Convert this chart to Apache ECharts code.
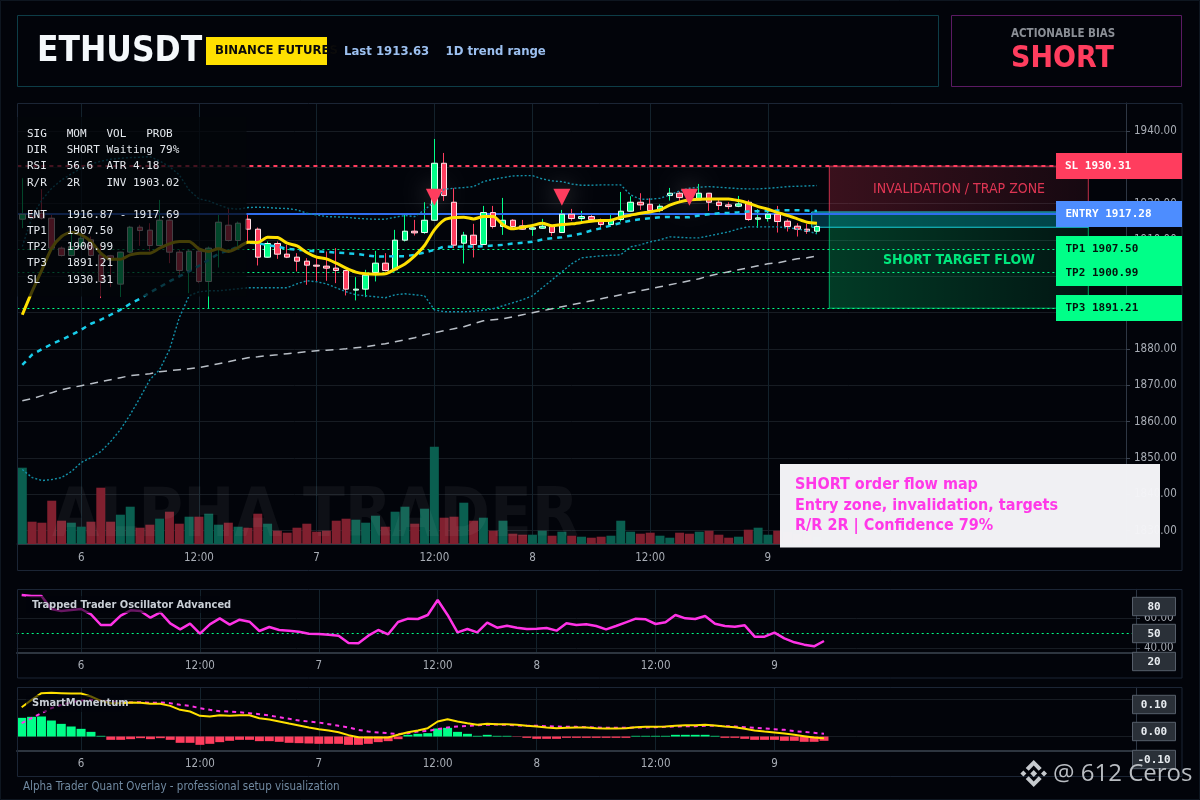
<!DOCTYPE html>
<html><head><meta charset="utf-8">
<style>html,body{margin:0;padding:0;background:#02040a}#c{width:1200px;height:800px}</style>
<script src="https://cdn.jsdelivr.net/npm/echarts@6/dist/echarts.min.js"></script>
</head><body><div id="c"></div>
<script>
const symbol='ETHUSDT', exchange='BINANCE FUTURES', lastPrice='1913.63', bias='SHORT';
const tickIndex=[6,18,30,42,52,64,76];
const tickText=['6','12:00','7','12:00','8','12:00','9'];
const categoryCount=113;
const opens=[1915.71,1916.90,1917.36,1915.98,1907.74,1905.72,1908.19,1910.03,1905.90,1905.63,
1897.84,1906.64,1913.51,1912.69,1908.47,1915.43,1906.64,1901.60,1906.91,1898.57,
1907.74,1914.06,1909.84,1915.71,1912.96,1905.26,1909.02,1906.09,1905.26,1904.16,
1903.06,1902.79,1902.24,1901.60,1896.19,1896.46,1901.05,1903.61,1901.78,1909.94,
1912.41,1912.04,1915.43,1931.11,1920.38,1909.11,1911.31,1908.74,1917.54,1913.69,
1915.43,1913.88,1912.96,1913.23,1913.69,1912.04,1917.08,1915.89,1916.44,1915.62,
1914.24,1915.62,1917.91,1920.38,1919.83,1918.09,1922.22,1922.86,1922.67,1921.02,
1922.86,1920.38,1919.65,1919.28,1920.38,1915.71,1915.89,1917.08,1915.16,1913.78,
1912.96,1912.41];
const closes=[1917.08,1915.98,1915.98,1907.74,1905.72,1908.19,1910.48,1905.72,1898.57,1904.53,
1906.64,1913.51,1912.59,1908.47,1915.43,1906.64,1901.60,1906.91,1898.57,1907.74,
1914.88,1909.84,1914.61,1912.96,1905.26,1909.02,1906.09,1905.26,1904.16,1903.06,
1902.79,1902.24,1901.60,1896.46,1896.46,1900.31,1903.61,1901.60,1909.94,1912.41,
1911.95,1915.43,1931.11,1922.22,1908.56,1911.31,1908.74,1917.54,1913.69,1915.43,
1913.69,1912.96,1913.33,1913.78,1912.04,1917.08,1915.89,1916.44,1915.62,1914.24,
1915.62,1917.91,1920.38,1919.65,1918.09,1919.28,1922.86,1921.67,1921.02,1922.86,
1920.38,1919.47,1919.19,1919.92,1915.62,1916.08,1917.08,1915.07,1913.69,1912.96,
1912.41,1913.69];
const lows=[1913.23,1915.50,1915.60,1907.28,1905.44,1905.44,1907.90,1905.44,1893.99,1897.01,
1894.45,1906.36,1908.38,1906.82,1908.40,1903.61,1899.95,1895.36,1898.11,1891.24,
1902.42,1909.57,1908.19,1909.11,1902.97,1905.26,1904.80,1904.99,1901.32,1897.65,
1898.57,1898.75,1898.11,1894.72,1893.35,1894.26,1898.57,1901.32,1901.32,1909.57,
1911.22,1911.68,1915.34,1920.75,1907.74,1903.52,1905.17,1908.74,1913.14,1911.40,
1913.23,1912.78,1911.13,1913.14,1911.13,1912.04,1915.25,1915.07,1915.52,1913.51,
1914.15,1915.07,1917.82,1918.27,1917.63,1917.63,1920.84,1920.57,1920.57,1921.02,
1918.00,1918.27,1918.46,1919.01,1915.25,1913.33,1915.07,1912.04,1912.32,1910.94,
1911.68,1911.68];
const highs=[1926.98,1918.27,1923.96,1917.36,1908.19,1912.32,1911.86,1910.94,1908.65,1905.90,
1906.64,1913.88,1914.15,1914.61,1921.02,1915.98,1907.28,1907.46,1908.19,1908.19,
1917.36,1918.73,1915.07,1917.36,1913.42,1909.57,1909.57,1908.65,1906.36,1904.99,
1905.44,1906.82,1907.74,1901.78,1899.76,1901.78,1907.00,1906.36,1912.78,1917.36,
1915.53,1920.38,1937.80,1933.95,1924.23,1912.23,1914.43,1919.37,1919.37,1921.57,
1915.71,1915.52,1913.51,1915.80,1914.15,1918.27,1918.55,1918.00,1916.90,1915.89,
1916.90,1923.22,1922.03,1922.86,1921.48,1919.83,1924.32,1923.32,1923.04,1925.42,
1922.86,1921.02,1920.38,1922.12,1921.02,1918.46,1918.27,1919.37,1915.71,1914.61,
1914.43,1914.15];
const volumes=[76.3,22.3,21.3,43.3,23.3,21.3,17.3,22.3,56.3,22.3,
29.3,37.3,16.3,19.3,25.3,32.3,20.3,27.3,27.3,30.3,
19.3,21.3,17.3,16.3,30.3,20.3,13.3,11.3,16.3,20.3,
12.3,13.3,23.3,25.3,24.3,21.3,28.3,17.3,32.3,37.3,
20.3,35.3,97.3,26.3,27.3,41.3,23.3,26.3,13.3,23.3,
10.3,9.3,9.3,13.3,8.3,12.3,8.3,7.3,6.3,7.3,
8.3,23.3,12.3,10.3,11.3,8.3,6.3,11.3,10.3,12.3,
13.3,9.3,6.3,7.3,14.3,16.3,9.3,13.3,12,10,
9,7];
const emaFast=[1889.41,1895.82,1901.78,1907.74,1910.94,1912.14,1911.40,1909.57,1906.36,1904.71,
1904.71,1905.90,1906.36,1906.36,1907.74,1908.93,1909.57,1909.57,1907.55,1906.82,
1907.55,1906.82,1907.92,1909.39,1909.29,1910.76,1910.67,1909.11,1908.38,1906.54,
1905.26,1904.80,1903.61,1902.24,1901.14,1900.68,1900.59,1900.68,1901.96,1903.40,
1905.63,1908.47,1912.78,1915.52,1916.17,1916.26,1915.80,1916.44,1916.44,1914.15,
1913.05,1913.51,1913.97,1914.61,1913.88,1914.24,1914.43,1914.79,1915.16,1915.34,
1915.43,1916.26,1916.81,1917.36,1917.72,1918.27,1919.56,1920.47,1921.02,1921.21,
1921.30,1921.30,1921.30,1920.84,1920.11,1919.19,1918.46,1917.54,1916.72,1915.80,
1914.88,1914.61];
const emaMid=[1875.58,1878.41,1879.96,1881.34,1882.53,1883.82,1885.28,1886.93,1888.03,1889.41,
1890.78,1892.43,1893.81,1895.55,1897.01,1898.57,1899.95,1901.32,1902.88,1904.53,
1906.18,1907.09,1908.19,1909.29,1909.11,1908.56,1908.19,1907.55,1907.28,1907.09,
1906.82,1906.73,1906.54,1906.36,1906.18,1905.81,1905.44,1905.44,1905.54,1905.53,
1905.90,1906.54,1907.28,1908.19,1908.10,1908.19,1908.19,1908.28,1908.47,1908.65,
1909.02,1909.20,1909.48,1910.12,1910.49,1910.76,1911.22,1911.77,1912.59,1913.23,
1913.97,1914.70,1915.34,1915.71,1915.98,1916.26,1916.35,1916.17,1916.26,1916.72,
1917.08,1917.36,1917.45,1917.63,1917.82,1917.91,1918.00,1918.09,1918.18,1918.18,
1918.09,1918.00];
const emaSlow=[1865.76,1866.30,1867.14,1867.96,1868.79,1869.34,1869.89,1870.44,1870.99,1871.54,
1872.09,1872.64,1872.91,1873.19,1873.74,1874.01,1874.29,1874.56,1874.84,1875.39,
1875.94,1876.49,1877.04,1877.59,1877.86,1878.14,1878.41,1878.69,1878.96,1879.24,
1879.51,1879.65,1879.79,1880.06,1880.34,1880.61,1881.03,1881.44,1881.99,1882.54,
1883.09,1883.91,1884.46,1885.01,1885.56,1886.11,1886.94,1887.76,1888.04,1888.31,
1888.86,1889.41,1889.96,1890.51,1891.06,1891.61,1892.16,1892.71,1893.26,1893.81,
1894.36,1894.91,1895.46,1896.01,1896.56,1897.11,1897.66,1898.21,1898.76,1899.31,
1900.13,1900.68,1901.23,1901.78,1902.33,1902.88,1903.43,1903.71,1904.26,1904.81,
1905.08,1905.63];
const bandUpper=[1908.19,1916.44,1921.02,1924.23,1926.52,1928.17,1929.73,1930.92,1931.66,1932.21,
1932.48,1932.66,1932.76,1932.94,1931.75,1930.19,1927.90,1923.77,1921.30,1920.75,
1919.65,1918.73,1918.46,1918.92,1919.01,1918.92,1918.73,1918.64,1918.28,1917.36,
1916.90,1916.44,1916.35,1916.26,1915.98,1915.80,1915.71,1915.71,1916.26,1916.72,
1916.44,1918.27,1920.57,1923.96,1924.23,1924.42,1924.69,1926.06,1926.71,1927.16,
1927.62,1927.71,1927.71,1926.80,1926.25,1926.06,1925.42,1925.06,1925.06,1925.15,
1925.15,1925.15,1922.40,1921.21,1921.21,1921.48,1922.40,1923.50,1924.23,1924.51,
1924.69,1924.51,1924.32,1924.14,1924.05,1924.05,1924.23,1924.42,1924.69,1924.78,
1924.87,1924.97];
const bandLower=[1846.79,1844.59,1843.77,1844.04,1844.59,1846.24,1848.72,1850.09,1851.74,1854.49,
1857.79,1861.92,1866.59,1871.54,1874.29,1879.79,1888.59,1894.63,1895.73,1896.00,
1896.00,1896.28,1896.56,1896.83,1896.83,1896.83,1896.83,1896.83,1897.93,1898.76,
1898.49,1897.93,1896.83,1895.73,1894.91,1894.63,1894.36,1894.08,1894.91,1895.18,
1894.91,1894.63,1890.78,1890.23,1890.23,1890.23,1890.37,1890.65,1891.06,1891.89,
1892.71,1893.54,1894.63,1896.83,1899.03,1901.23,1903.43,1905.08,1905.36,1905.63,
1905.77,1905.91,1908.11,1908.66,1909.48,1910.03,1910.86,1910.72,1910.58,1910.58,
1911.13,1911.68,1912.23,1913.06,1913.61,1913.61,1913.61,1913.61,1913.33,1913.06,
1912.51,1911.68];
const oscillator=[75.53,74.87,74.87,66.2,64.87,65.53,66.2,62.65,55.54,55.54,
61.76,65.31,64.87,60.42,63.98,56.65,52.65,56.42,49.76,55.98,
59.98,55.76,59.09,57.76,51.54,54.2,52.2,51.76,51.09,49.76,
49.54,49.09,48.43,43.54,43.31,48.43,52.2,49.31,57.53,59.76,
59.54,62.2,72.2,62.2,50.65,52.87,50.65,57.09,53.76,55.09,
53.76,52.87,53.09,53.54,51.76,56.65,55.54,55.98,54.87,52.65,
54.87,57.31,59.76,59.31,56.2,57.31,62.2,59.98,59.54,61.54,
56.42,54.87,54.42,55.31,47.76,47.76,50.42,46.65,43.98,42.43,
41.31,44.87];
const momentumHist=[.0502,.0529,.0538,.0430,.0340,.0269,.0206,.0125,.0018,-.0090,
-.0090,-.0072,-.0045,-.0072,-.0045,-.0090,-.0170,-.0170,-.0224,-.0197,
-.0152,-.0116,-.0090,-.0090,-.0125,-.0125,-.0143,-.0170,-.0179,-.0188,
-.0197,-.0197,-.0197,-.0224,-.0224,-.0197,-.0152,-.0125,-.0072,.0045,
.0072,.0090,.0215,.0233,.0125,.0072,.0018,.0045,.0018,.0018,
-.0009,-.0036,-.0063,-.0063,-.0063,-.0036,-.0036,-.0036,-.0036,-.0036,
-.0036,-.0036,.0018,.0018,.0018,.0018,.0045,.0045,.0045,.0045,
.0018,-.0036,-.0036,-.0063,-.0090,-.0090,-.0090,-.0116,-.0116,-.0143,
-.0143,-.0116];
const momentumFast=[.0788,.0986,.1165,.1174,.1165,.1156,.1156,.1075,.0959,.0896,
.0896,.0914,.0905,.0878,.0878,.0824,.0717,.0672,.0556,.0538,
.0573,.0556,.0573,.0573,.0493,.0457,.0403,.0349,.0296,.0242,
.0197,.0161,.0116,.0036,-.0018,-.0027,-.0027,-.0027,.0045,.0116,
.0161,.0224,.0403,.0466,.0403,.0358,.0314,.0340,.0332,.0332,
.0314,.0287,.0269,.0242,.0224,.0233,.0242,.0242,.0224,.0215,
.0215,.0224,.0251,.0260,.0260,.0269,.0287,.0305,.0305,.0314,
.0296,.0269,.0251,.0206,.0161,.0134,.0108,.0081,.0045,.0009,
-.0027,-.0045];
const momentumSignal=[.0358,.0493,.0627,.0762,.0851,.0914,.0968,.0986,.0968,.0941,
.0932,.0914,.0923,.0905,.0914,.0896,.0851,.0824,.0762,.0717,
.0681,.0672,.0654,.0627,.0600,.0564,.0520,.0475,.0430,.0403,
.0376,.0332,.0287,.0242,.0179,.0134,.0108,.0090,.0063,.0090,
.0134,.0152,.0197,.0242,.0269,.0287,.0305,.0314,.0323,.0314,
.0296,.0287,.0287,.0278,.0269,.0260,.0260,.0251,.0242,.0233,
.0233,.0233,.0242,.0242,.0251,.0260,.0269,.0278,.0278,.0287,
.0287,.0278,.0269,.0251,.0233,.0215,.0197,.0179,.0143,.0125,
.0099,.0072];
const signalIndex=[42,55,68];
const signalPrice=[1921.76,1921.76,1921.76];
const priceTicks=[1830,1840,1850,1860,1870,1880,1890,1900,1910,1920,1930,1940];
const oscTicks=[40,60];
const momTicks=[0,0.1];
const slPrice=1930.31, entryPrice=1917.28, tp1Price=1907.50, tp2Price=1900.99, tp3Price=1891.21;
const entryZoneBottom=1913.50, entryZoneTop=1917.69;
const infoLines=['SIG   MOM   VOL   PROB','DIR   SHORT Waiting 79%','RSI   56.6  ATR 4.18','R/R   2R    INV 1903.02','',
 'ENT   1916.87 - 1917.69','TP1   1907.50','TP2   1900.99','TP3   1891.21','SL    1930.31'];
const noteLines=['SHORT order flow map','Entry zone, invalidation, targets','R/R 2R | Confidence 79%'];
const oscBoxes=['80','50','20'], momBoxes=['0.10','0.00','-0.10'];

const UP='#00ff88', DOWN='#ff3d5e';
const categories=Array.from({length:categoryCount},(_,i)=>{const k=tickIndex.indexOf(i);return k>=0?tickText[k]:'';});
const showTick=i=>tickIndex.indexOf(i)>=0;
const candle=opens.map((o,i)=>[o,closes[i],lows[i],highs[i]]);
const body=opens.map((o,i)=>[o,closes[i],Math.min(o,closes[i]),Math.max(o,closes[i])]);
const volData=volumes.map((v,i)=>({value:v,itemStyle:{color:closes[i]>=opens[i]?'#0a5f50':'#80202f'}}));
const histData=momentumHist.map(v=>({value:v,itemStyle:{color:v>=0?UP:DOWN}}));
const signals=signalIndex.map((x,i)=>[x,signalPrice[i]]);

const mono='"DejaVu Sans Mono",monospace', sans='"DejaVu Sans Condensed","DejaVu Sans",sans-serif';
const xAxisBase=(gi)=>({type:'category',gridIndex:gi,data:categories,boundaryGap:true,
 axisLine:{onZero:false,lineStyle:{color:'#3c4552',width:1.5}},
 axisTick:{alignWithLabel:true,interval:i=>showTick(i),length:4,lineStyle:{color:'#3c4552'}},
 axisLabel:{interval:i=>showTick(i),color:'#a8adb5',fontSize:11.5,fontFamily:sans,margin:8,hideOverlap:false},
 splitLine:{show:true,alignWithLabel:true,interval:i=>showTick(i),lineStyle:{color:'#13222c',width:1}}});
const yGrid={show:true,lineStyle:{color:'#171c23',width:1}};
const priceLevel=(v,color,width,type)=>({type:'line',xAxisIndex:0,yAxisIndex:0,data:[],silent:true,z:6,
 markLine:{silent:true,symbol:'none',animation:false,label:{show:false},lineStyle:{color,width,type},data:[{yAxis:v}]}});
const ln=(x,y,data,color,width,type,z,smooth)=>({type:'line',xAxisIndex:x,yAxisIndex:y,data,showSymbol:false,symbol:'none',
 lineStyle:{color,width,type},z:z||7,smooth:smooth||false,silent:true});

const option={
 backgroundColor:'#02040a',animation:false,
 grid:[{left:17.4,width:1108.6,top:103,height:441},{left:16.7,width:1119.3,top:589.3,height:63},{left:16.7,width:1119.3,top:687.3,height:63}],
 xAxis:[xAxisBase(0),xAxisBase(1),xAxisBase(2)],
 yAxis:[
  {type:'value',gridIndex:0,position:'right',min:1826.3,max:1947.7,
   axisLine:{show:true,lineStyle:{color:'#2e3744'}},axisTick:{show:true,length:4,lineStyle:{color:'#3c4552'},customValues:priceTicks},
   axisLabel:{color:'#a8adb5',fontSize:11.5,fontFamily:sans,margin:8,customValues:priceTicks,formatter:v=>v.toFixed(2)},splitLine:yGrid},
  {type:'value',gridIndex:0,position:'right',min:0,max:441,show:false,splitLine:{show:false}},
  {type:'value',gridIndex:1,position:'right',min:37.33,max:79.33,
   axisLine:{show:true,lineStyle:{color:'#2e3744'}},axisTick:{show:true,length:4,lineStyle:{color:'#3c4552'},customValues:oscTicks},
   axisLabel:{color:'#a8adb5',fontSize:11.5,fontFamily:sans,margin:8,customValues:oscTicks,formatter:v=>v.toFixed(2)},splitLine:yGrid},
  {type:'value',gridIndex:2,position:'right',min:-0.0371,max:0.1323,
   axisLine:{show:true,lineStyle:{color:'#2e3744'}},axisTick:{show:false,customValues:momTicks},
   axisLabel:{show:false,customValues:momTicks},splitLine:yGrid}
 ],
 series:[
  {type:'bar',xAxisIndex:0,yAxisIndex:1,data:volData,barWidth:9,z:2,silent:true},
  {type:'custom',xAxisIndex:0,yAxisIndex:0,z:3,silent:true,clip:false,
   encode:{x:0,y:[1,2]},
   data:[[0,slPrice,entryPrice,0],[0,entryPrice,tp3Price,1],[0,entryZoneTop,entryZoneBottom,2]],
   renderItem:(p,api)=>{
    const y1=api.coord([0,api.value(1)])[1], y2=api.coord([0,api.value(2)])[1], k=api.value(3);
    const x1=k===2?811.7:829.3, x2=1088.3;
    const grad=(c0,c1)=>new echarts.graphic.LinearGradient(0,0,1,0,[{offset:0,color:c0},{offset:1,color:c1}]);
    const fill=k===0?grad('rgba(255,61,94,.22)','rgba(255,61,94,.08)'):k===1?grad('rgba(0,255,136,.22)','rgba(0,255,136,.07)'):'rgba(0,190,225,.26)';
    const stroke=k===0?'rgba(255,61,94,.75)':k===1?'rgba(0,230,130,.7)':'#18cdd8';
    return {type:'rect',shape:{x:x1,y:y1,width:x2-x1,height:y2-y1},style:{fill,stroke,lineWidth:1}};
   }},
  {type:'candlestick',xAxisIndex:0,yAxisIndex:0,data:candle,barWidth:2,z:4,silent:true,
   itemStyle:{color:UP,color0:DOWN,borderColor:UP,borderColor0:DOWN,borderWidth:1}},
  {type:'candlestick',xAxisIndex:0,yAxisIndex:0,data:body,barWidth:6,z:5,silent:true,
   itemStyle:{color:UP,color0:DOWN,borderColor:'#eafff5',borderColor0:'#ffe3e8',borderWidth:1}},
  priceLevel(slPrice,DOWN,2,[4,4]),
  priceLevel(entryPrice,'#2f6df0',2,'solid'),
  priceLevel(tp1Price,UP,1,[2,3]),
  priceLevel(tp2Price,UP,1,[2,3]),
  priceLevel(tp3Price,UP,1,[2,3]),
  ln(0,0,bandUpper,'#1390a8',1.4,[2,2],6),
  ln(0,0,bandLower,'#1390a8',1.4,[2,2],6),
  ln(0,0,emaSlow,'#b9bfc7',1.5,[8,6],7),
  ln(0,0,emaMid,'#18cdea',2.5,[5,5],7),
  ln(0,0,emaFast,'#ffe000',3,'solid',8,0.25),
  {type:'scatter',xAxisIndex:0,yAxisIndex:0,data:signals,symbol:'triangle',symbolRotate:180,symbolSize:[17,17],z:9,silent:true,
   itemStyle:{color:DOWN,opacity:1,shadowBlur:22,shadowColor:'rgba(190,190,190,.45)'}},
  {type:'line',xAxisIndex:1,yAxisIndex:2,data:oscillator,showSymbol:false,symbol:'none',silent:true,z:7,
   lineStyle:{color:'#ff33e6',width:2.5},
   markLine:{silent:true,symbol:'none',animation:false,label:{show:false},lineStyle:{color:UP,width:1,type:[2,3]},data:[{yAxis:50}]}},
  {type:'bar',xAxisIndex:2,yAxisIndex:3,data:histData,barWidth:9,z:3,silent:true},
  ln(2,3,momentumSignal,'#ff33e6',2,[4,4],6),
  ln(2,3,momentumFast,'#ffe000',2,'solid',7)
 ],
 graphic:{elements:[]}
};

const G=option.graphic.elements;
const rect=(x,y,w,h,fill,stroke,z,extra)=>G.push({type:'rect',silent:true,z:z||100,shape:{x,y,width:w,height:h},style:Object.assign({fill:fill||'transparent',stroke:stroke||null,lineWidth:1},extra||{})});
const text=(t,x,y,font,fill,z,extra)=>G.push({type:'text',silent:true,z:z||120,x,y,style:Object.assign({text:t,font,fill,textVerticalAlign:'middle',textAlign:'left'},extra||{})});
// frames
rect(.5,.5,1199,799,null,'#0e1620',90);
rect(17.5,15.5,921,71,null,'#0d3d47',90);
rect(951.5,15.5,230,71,null,'#5b1a63',90);
rect(17.5,103.5,1164.5,467,null,'#1b2535',90);
rect(17.5,589.5,1164.5,88.5,null,'#1b2535',90);
rect(17.5,687.5,1164.5,89,null,'#1b2535',90);
// header
text(symbol,37,52,'bold 35px '+sans,'#f4f8fb',120,{shadowBlur:14,shadowColor:'rgba(60,200,230,.55)'});
rect(206,37,121,28,'#ffe000',null,110);
text(exchange,215,51,'bold 13px '+sans,'#0b0b0b');
text('Last '+lastPrice+'    1D trend range',344,51.5,'bold 13px '+sans,'#9cc0f0');
text('ACTIONABLE BIAS',1011,34,'bold 11.5px '+sans,'#8b8f96');
text(bias,1011,59,'bold 30px '+sans,DOWN,120,{shadowBlur:8,shadowColor:'rgba(255,61,94,.5)'});
// info panel
rect(17.5,117,229,179.5,'rgba(3,5,9,.74)',null,100);
const infoY=[134,150,166,182.7,199,215,231,247,263.3,280];
infoLines.forEach((t,i)=>{if(t)text(t,27,infoY[i],'11px '+mono,'#e4e8ed');});
// zone captions
text('INVALIDATION / TRAP ZONE',959,189,'14px '+sans,'rgba(255,61,94,.85)',120,{textAlign:'center'});
text('SHORT TARGET FLOW',959,260,'bold 14px '+sans,'#00e77c',120,{textAlign:'center'});
// price labels
rect(1056,153,126,26,DOWN,null,110);
text('SL '+slPrice.toFixed(2),1065,166,'bold 11px '+mono,'#ffffff');
rect(1056,201,126,26,'#4d8dff',null,110);
text('ENTRY '+entryPrice.toFixed(2),1065.5,214,'bold 11px '+mono,'#ffffff');
rect(1056,236,126,50,UP,null,110);
text('TP1 '+tp1Price.toFixed(2),1065.5,249,'bold 11px '+mono,'#04130c');
text('TP2 '+tp2Price.toFixed(2),1065.5,273,'bold 11px '+mono,'#04130c');
rect(1056,295,126,26,UP,null,110);
text('TP3 '+tp3Price.toFixed(2),1065.5,308,'bold 11px '+mono,'#04130c');
// watermark + note
text('ALPHA TRADER',52,518,'bold 68px '+sans,'rgba(255,255,255,.05)',105);
rect(780,464,380,83.5,'rgba(244,244,247,.985)',null,110);
const noteY=[485,506,526];
noteLines.forEach((t,i)=>text(t,795,noteY[i],'bold 16px '+sans,'#ff38e8'));
// sub-panel captions
rect(26,596,194,17,'rgba(2,4,10,.6)',null,100);
text('Trapped Trader Oscillator Advanced',32,605,'bold 11px '+sans,'#c8ced5');
rect(26,695,98,17,'rgba(2,4,10,.6)',null,100);
text('SmartMomentum',32,703.5,'bold 11px '+sans,'#c8ced5');
// right boxes
const boxY1=[597.3,624.3,652.3], boxY2=[695.3,722.3,750.3];
const drawBox=(t,y)=>{rect(1132.5,y,43,18.4,'#2a3038','#565e6a',110);text(t,1154,y+9.5,'bold 11px '+mono,'#e8ecf0',120,{textAlign:'center'});};
oscBoxes.forEach((t,i)=>drawBox(t,boxY1[i]));
momBoxes.forEach((t,i)=>drawBox(t,boxY2[i]));
// footer
text('Alpha Trader Quant Overlay - professional setup visualization',23,787,'11.5px '+sans,'#7089a0');
// brand mark
const cx=1033.7, cy=773.5, ic='#c6cace';
const poly=(pts)=>G.push({type:'polygon',silent:true,z:130,shape:{points:pts},style:{fill:ic}});
const dia=(x,y,r)=>poly([[x,y-r],[x+r,y],[x,y+r],[x-r,y]]);
dia(cx,cy,3.4);dia(cx-10.3,cy,3);dia(cx+10.3,cy,3);
poly([[cx,cy-13.5],[cx+8,cy-5.5],[cx+5,cy-2.8],[cx,cy-8],[cx-5,cy-2.8],[cx-8,cy-5.5]]);
poly([[cx,cy+13.5],[cx+8,cy+5.5],[cx+5,cy+2.8],[cx,cy+8],[cx-5,cy+2.8],[cx-8,cy+5.5]]);
text('@ 612 Ceros',1053,774,'24px "Open Sans",sans-serif','#b9bdc2',130);

const chart=echarts.init(document.getElementById('c'),null,{renderer:'canvas',width:1200,height:800});
chart.setOption(option);
</script></body></html>
